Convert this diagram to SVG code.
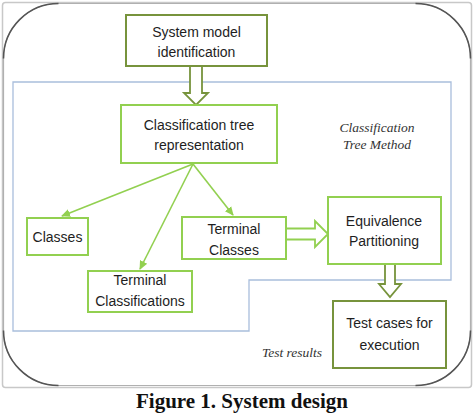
<svg xmlns="http://www.w3.org/2000/svg" width="474" height="413" viewBox="0 0 474 413">
<defs>
<style>
.lbl{font-family:"Liberation Sans",Arial,sans-serif;font-size:14px;fill:#1e1e1e;text-anchor:middle}
.it{font-family:"Liberation Serif","Times New Roman",serif;font-style:italic;font-size:13.5px;fill:#333;text-anchor:middle}
.olive{fill:#fff;stroke:#77933c;stroke-width:2}
.lg{fill:#fff;stroke:#92d050;stroke-width:2}
.thin{fill:none;stroke:#92d050;stroke-width:1.6}
.hol{fill:#fff;stroke-width:1.8;stroke-linejoin:miter}
</style>
<marker id="ah" markerWidth="10" markerHeight="10" refX="8" refY="5" orient="auto" markerUnits="userSpaceOnUse">
<path d="M0,1 L9,5 L0,9 Z" fill="#92d050"/>
</marker>
</defs>
<rect x="0" y="0" width="474" height="413" fill="#fff"/>
<g id="frame">
<rect x="2.5" y="2.5" width="469" height="385" rx="3" fill="#fff" stroke="#c8c8c8" stroke-width="1.5"/>
<rect x="3.5" y="3.5" width="467" height="382" rx="55" fill="#fff" stroke="#b0b0b0" stroke-width="1.2"/>
<path d="M3.5,58.5 A55,55 0 0 1 58.5,3.5 M415.5,3.5 A55,55 0 0 1 470.5,58.5 M470.5,330.5 A55,55 0 0 1 415.5,385.5 M58.5,385.5 A55,55 0 0 1 3.5,330.5" fill="none" stroke="#555" stroke-width="1.5"/>
</g>
<g id="boundary">
<path d="M13,82 L451,82 L451,280 L249,280 L249,331 L13,331 Z" fill="none" stroke="#a9bedc" stroke-width="1.3"/>
<text class="it" x="377" y="132">Classification</text>
<text class="it" x="377" y="149">Tree Method</text>
<text class="it" x="292" y="357">Test results</text>
</g>
<g id="connectors">
<path class="hol" stroke="#77933c" d="M190,66 L202,66 L202,93 L208,93 L196,105 L184,93 L190,93 Z"/>
<path class="hol" stroke="#92d050" d="M286,228.5 L315,228.5 L315,221 L328,234 L315,247 L315,239.5 L286,239.5 Z"/>
<path class="hol" stroke="#77933c" d="M385,264 L395,264 L395,284 L401,284 L390,297 L379,284 L385,284 Z"/>
<line class="thin" x1="193" y1="164" x2="62" y2="216" marker-end="url(#ah)"/>
<line class="thin" x1="193" y1="164" x2="140" y2="269" marker-end="url(#ah)"/>
<line class="thin" x1="193" y1="164" x2="233" y2="215" marker-end="url(#ah)"/>
</g>
<g id="n-system">
<rect class="olive" x="126" y="15" width="141" height="51"/>
<text class="lbl" x="196.5" y="37">System model</text>
<text class="lbl" x="196.5" y="57">identification</text>
</g>
<g id="n-tree">
<rect class="lg" x="121" y="105" width="156" height="58"/>
<text class="lbl" x="199" y="130">Classification tree</text>
<text class="lbl" x="199" y="150">representation</text>
</g>
<g id="n-classes">
<rect class="lg" x="27" y="218" width="61" height="37"/>
<text class="lbl" x="57.5" y="242">Classes</text>
</g>
<g id="n-terminal-classes">
<rect class="lg" x="182" y="217" width="104" height="42"/>
<text class="lbl" x="234" y="234">Terminal</text>
<text class="lbl" x="234" y="255">Classes</text>
</g>
<g id="n-equivalence">
<rect class="lg" x="328" y="197" width="113" height="67"/>
<text class="lbl" x="384" y="226">Equivalence</text>
<text class="lbl" x="384" y="246">Partitioning</text>
</g>
<g id="n-terminal-classifications">
<rect class="lg" x="88" y="271" width="104" height="41"/>
<text class="lbl" x="140" y="285">Terminal</text>
<text class="lbl" x="140" y="306">Classifications</text>
</g>
<g id="n-testcases">
<rect class="olive" x="333" y="301" width="113" height="67"/>
<text class="lbl" x="389.5" y="328">Test cases for</text>
<text class="lbl" x="389.5" y="350">execution</text>
</g>
<text x="242" y="408" font-family="Liberation Serif,'Times New Roman',serif" font-weight="bold" font-size="21" fill="#111" text-anchor="middle">Figure 1. System design</text>
</svg>
